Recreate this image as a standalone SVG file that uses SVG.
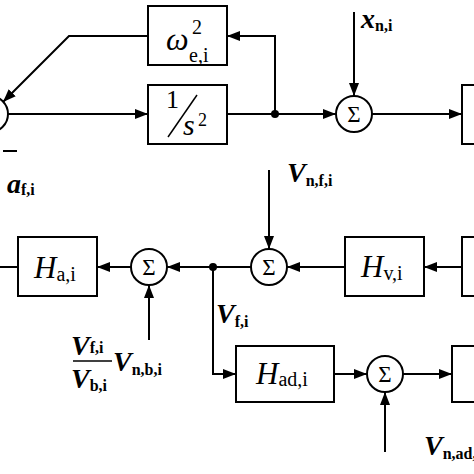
<svg xmlns="http://www.w3.org/2000/svg" width="474" height="474" viewBox="0 0 474 474">
<style>
.ln{fill:none;stroke:#000;stroke-width:2}
.bx{fill:#fff;stroke:#000;stroke-width:2}
.t{font-family:"Liberation Serif","Times New Roman",serif;fill:#000}
.big{font-size:31px;font-style:italic}
.sub{font-size:20px}
.sig{font-size:23px}
.lb{font-size:28px;font-weight:bold;font-style:italic}
.ls{font-size:16px;font-weight:bold}
</style>
<defs>
<marker id="ar" markerUnits="userSpaceOnUse" markerWidth="13" markerHeight="10" refX="13" refY="5" orient="auto">
<path d="M0,0 L13,5 L0,10 z" fill="#000"/>
</marker>
</defs>
<rect width="474" height="474" fill="#fff"/>
<g id="connectors">
<path class="ln" d="M148,36 H69 L3,102" marker-end="url(#ar)"/>
<path class="ln" d="M8,114 H148" marker-end="url(#ar)"/>
<path class="ln" d="M227,114 H336" marker-end="url(#ar)"/>
<path class="ln" d="M275,114 V36 H227" marker-end="url(#ar)"/>
<path class="ln" d="M354,12 V96" marker-end="url(#ar)"/>
<path class="ln" d="M372,114 H462" marker-end="url(#ar)"/>
<path class="ln" d="M462,267 H424" marker-end="url(#ar)"/>
<path class="ln" d="M345,267 H287" marker-end="url(#ar)"/>
<path class="ln" d="M269,170 V249" marker-end="url(#ar)"/>
<path class="ln" d="M251,267 H167" marker-end="url(#ar)"/>
<path class="ln" d="M131,267 H97" marker-end="url(#ar)"/>
<path class="ln" d="M18,267 H0"/>
<path class="ln" d="M149,340 V285" marker-end="url(#ar)"/>
<path class="ln" d="M213,267 V374 H236" marker-end="url(#ar)"/>
<path class="ln" d="M334,374 H367" marker-end="url(#ar)"/>
<path class="ln" d="M385,452 V392" marker-end="url(#ar)"/>
<path class="ln" d="M403,374 H452" marker-end="url(#ar)"/>
<circle cx="275" cy="114" r="4" fill="#000"/>
<circle cx="213" cy="267" r="4" fill="#000"/>
</g>
<g id="sum0"><circle class="bx" cx="-10" cy="114" r="18"/></g>
<g id="omega">
<rect class="bx" x="148" y="6" width="79" height="59"/>
<text class="t" x="166" y="50" font-size="32" font-style="italic">ω</text>
<text class="t" x="192" y="34" font-size="20">2</text>
<text class="t" x="189" y="62" font-size="20">e,i</text>
</g>
<g id="integ">
<rect class="bx" x="148" y="85" width="79" height="59"/>
<text class="t" x="166" y="108" font-size="26">1</text>
<line x1="168" y1="137" x2="197" y2="95" stroke="#000" stroke-width="1.5"/>
<text class="t" x="183" y="135" font-size="30" font-style="italic">s</text>
<text class="t" x="198" y="126" font-size="18">2</text>
</g>
<g id="sum1">
<circle class="bx" cx="354" cy="114" r="18"/>
<text class="t sig" x="354" y="122" text-anchor="middle">Σ</text>
</g>
<g id="boxR1"><rect class="bx" x="462" y="85" width="40" height="59"/></g>
<g id="Ha">
<rect class="bx" x="18" y="237" width="79" height="59"/>
<text class="t" x="34" y="278"><tspan class="big">H</tspan><tspan class="sub" dy="3">a,i</tspan></text>
</g>
<g id="sum2">
<circle class="bx" cx="149" cy="267" r="18"/>
<text class="t sig" x="149" y="275" text-anchor="middle">Σ</text>
</g>
<g id="sum3">
<circle class="bx" cx="269" cy="267" r="18"/>
<text class="t sig" x="269" y="275" text-anchor="middle">Σ</text>
</g>
<g id="Hv">
<rect class="bx" x="345" y="237" width="79" height="59"/>
<text class="t" x="361" y="277"><tspan class="big">H</tspan><tspan class="sub" dy="3">v,i</tspan></text>
</g>
<g id="boxR2"><rect class="bx" x="462" y="237" width="40" height="59"/></g>
<g id="Had">
<rect class="bx" x="236" y="346" width="98" height="56"/>
<text class="t" x="256" y="384"><tspan class="big">H</tspan><tspan class="sub" dy="2">ad,i</tspan></text>
</g>
<g id="sum4">
<circle class="bx" cx="385" cy="374" r="18"/>
<text class="t sig" x="385" y="382" text-anchor="middle">Σ</text>
</g>
<g id="boxR3"><rect class="bx" x="452" y="346" width="40" height="56"/></g>
<g id="labels">
<text class="t" x="7" y="193"><tspan class="lb">a</tspan><tspan class="ls" dy="2">f,i</tspan></text>
<line x1="3" y1="151" x2="17" y2="151" stroke="#000" stroke-width="2"/>
<text class="t" x="361" y="28"><tspan class="lb">x</tspan><tspan class="ls" dy="3">n,i</tspan></text>
<text class="t" x="287" y="182"><tspan class="lb">V</tspan><tspan class="ls" dy="4">n,f,i</tspan></text>
<text class="t" x="216" y="323"><tspan class="lb">V</tspan><tspan class="ls" dy="4">f,i</tspan></text>
<text class="t" x="71" y="355"><tspan class="lb">V</tspan><tspan class="ls" dy="-2">f,i</tspan></text>
<line x1="73" y1="361" x2="112" y2="361" stroke="#000" stroke-width="1.5"/>
<text class="t" x="71" y="388"><tspan class="lb">V</tspan><tspan class="ls" dy="3">b,i</tspan></text>
<text class="t" x="113" y="371"><tspan class="lb">V</tspan><tspan class="ls" dy="4">n,b,i</tspan></text>
<text class="t" x="424" y="455"><tspan class="lb">V</tspan><tspan class="ls" dy="4">n,ad,i</tspan></text>
</g>
</svg>
